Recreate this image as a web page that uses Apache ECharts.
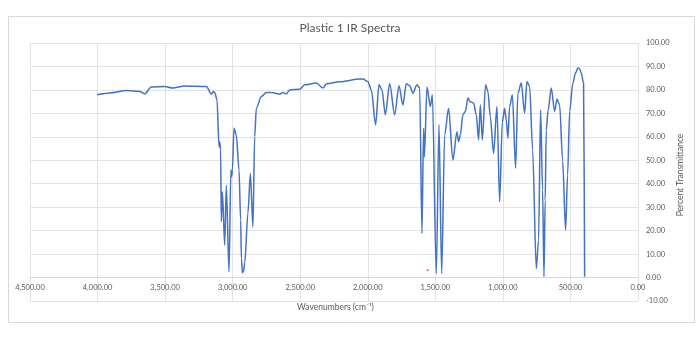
<!DOCTYPE html>
<html><head><meta charset="utf-8">
<script src="https://cdn.jsdelivr.net/npm/echarts@6/dist/echarts.min.js"></script>
<style>html,body{margin:0;padding:0;background:#fff}#c{width:700px;height:346px}</style>
</head><body><div id="c"></div>
<script>
// Wavenumbers (cm-1) and percent transmittance
var wavenumbers = [4004,3910,3787,3688,3651,3602,3503,3444,3356,3195,3158,3141,3133,3116,3101,3096,3089,3084,3076,3059,3047,3027,3013,3007,3002,2990,2973,2953,2941,2935,2928,2920,2911,2887,2869,2850,2837,2825,2788,2751,2700,2652,2630,2603,2578,2504,2467,2381,2332,2304,2208,2060,2036,1999,1974,1942,1917,1895,1870,1838,1801,1769,1740,1715,1690,1666,1636,1616,1599,1587,1581,1562,1537,1522,1493,1473,1453,1431,1402,1370,1340,1328,1315,1296,1278,1259,1241,1217,1197,1180,1167,1152,1128,1111,1093,1069,1044,1024,1004,987,975,963,950,930,906,889,864,839,822,802,780,753,736,721,706,696,687,679,665,642,617,600,580,558,536,521,506,482,462,445,432,420,403,395];
var transmittance = [77.9,78.7,79.7,79.3,78.3,81.2,81.5,80.8,81.7,81.5,78.3,79.3,78.9,75.8,55.8,57.9,54.4,23.8,36.6,13.8,39.4,2.4,45.9,43,45.9,63.7,60.8,45.9,24.5,8,2,2.6,6.1,27.5,44.4,21.6,60.1,72.2,77.2,78.9,78.8,78.2,78.9,78.3,80,80.3,82.2,82.9,80.8,82.6,83.5,84.6,84.6,83.6,80,65.1,82.2,80,69.4,82.6,69.4,81.8,73.6,82.6,81.8,78.6,82.2,80.9,18.8,63.7,51.5,81.2,72.9,77.9,1.7,65.1,1.7,60.8,72.2,50.1,62.2,57.9,60.8,69.4,70.8,76.5,75,74.4,69.4,58.7,73.6,58.7,82.2,79.3,68.6,53,72.9,32.3,66.4,72.2,67.2,59.4,72.9,77.9,46.6,78.6,82.9,70.1,83.6,81.5,54.4,3.8,15.9,71.5,37.3,0.3,33,62.9,71.5,80.8,70.8,76.1,73.6,50.1,20.2,43.7,70.8,82.9,87.3,89.3,89,87.2,82.9,0.3];
var strayWavenumber = [1557];
var strayTransmittance = [3.1];
var xTicks = {min: 0, max: 4500, interval: 500};
var yTicks = {min: -10, max: 100, interval: 10};

var spectrum = wavenumbers.map(function(w, i){ return [w, transmittance[i]]; });
var stray = strayWavenumber.map(function(w, i){ return [w, strayTransmittance[i]]; });

function fmtX(v){
  var s = v.toFixed(2), parts = s.split('.');
  parts[0] = parts[0].replace(/\B(?=(\d{3})+(?!\d))/g, ',');
  return parts.join('.');
}
var font = 'Lato, "Liberation Sans", sans-serif';
var gridTop = 43, gridBottom = 45, H = 346;
var unitPx = (H - gridTop - gridBottom) / (yTicks.max - yTicks.min);
var chart = echarts.init(document.getElementById('c'), null, {renderer: 'canvas'});
chart.setOption({
  animation: false,
  backgroundColor: '#ffffff',
  title: {text: 'Plastic 1 IR Spectra', left: 'center', top: 17,
    textStyle: {fontFamily: font, fontSize: 12, fontWeight: 'normal', color: '#595959'}},
  grid: {left: 30, right: 62, top: gridTop, bottom: gridBottom, containLabel: false},
  xAxis: {type: 'value', inverse: true, min: xTicks.min, max: xTicks.max, interval: xTicks.interval,
    position: 'bottom', offset: -unitPx * (0 - yTicks.min),
    axisLine: {show: true, onZero: false, lineStyle: {color: '#d9d9d9'}},
    axisTick: {show: false},
    axisLabel: {formatter: fmtX, fontSize: 7.5, fontFamily: font, color: '#595959', margin: 6, showMinLabel: true, showMaxLabel: true},
    splitLine: {show: true, lineStyle: {color: '#e3e3e3', width: 1}}},
  yAxis: {type: 'value', position: 'right', min: yTicks.min, max: yTicks.max, interval: yTicks.interval,
    axisLine: {show: false}, axisTick: {show: false},
    axisLabel: {formatter: function(v){ return v.toFixed(2); }, fontSize: 7.5, fontFamily: font, color: '#595959', margin: 8, align: 'left'},
    splitLine: {show: true, lineStyle: {color: '#e3e3e3', width: 1}}},
  series: [
    {type: 'line', data: spectrum, showSymbol: false, smooth: 0.3, smoothMonotone: 'x',
      lineStyle: {color: '#4472C4', width: 1.5}, z: 3},
    {type: 'scatter', data: stray, symbolSize: 2, itemStyle: {color: '#e03030'}, z: 4}
  ],
  graphic: [
    {type: 'rect', left: 6, top: 14, shape: {width: 686, height: 306}, style: {fill: 'none', stroke: '#d9d9d9', lineWidth: 1}, silent: true, z: -1},
    {type: 'text', left: 297, top: 303, style: {text: 'Wavenumbers (cm\u207B\u00B9)', fontFamily: font, fontSize: 8.5, fill: '#595959'}},
    {type: 'text', x: 680, y: 175, rotation: Math.PI/2, style: {text: 'Percent Transmittance', fontFamily: font, fontSize: 8.5, fill: '#595959', align: 'center', verticalAlign: 'middle'}}
  ]
});
</script></body></html>
